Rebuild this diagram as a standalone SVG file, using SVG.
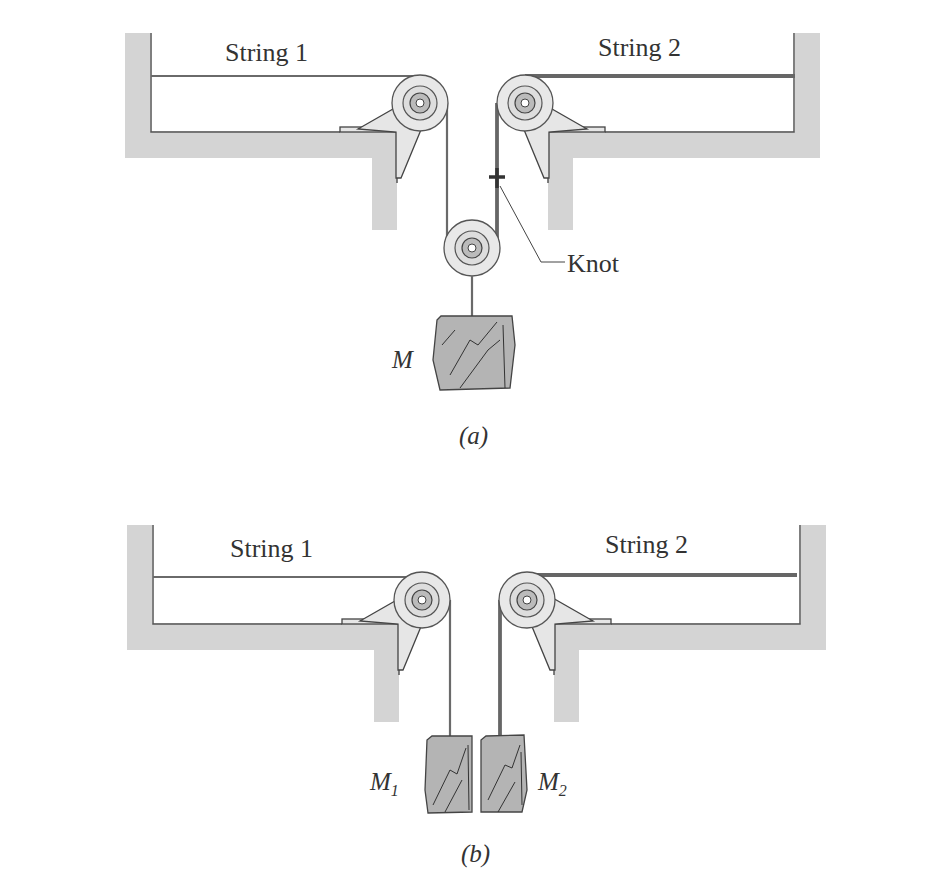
<svg xmlns="http://www.w3.org/2000/svg" width="936" height="896" viewBox="0 0 936 896">
<style>
.wall{fill:#d4d4d4;stroke:none}
.edge{fill:none;stroke:#555;stroke-width:1.5}
.s1{fill:none;stroke:#6a6a6a;stroke-width:2.2}
.s2{fill:none;stroke:#666;stroke-width:3.8}
.brk{fill:#e6e6e6;stroke:#444;stroke-width:1.3}
.pw{fill:#e8e8e8;stroke:#555;stroke-width:1.3}
.blk{fill:#b4b4b4;stroke:#444;stroke-width:1.3}
.crk{fill:none;stroke:#333;stroke-width:1}
.lbl{font-family:"Liberation Serif",serif;font-size:26px;fill:#333}
.it{font-family:"Liberation Serif",serif;font-size:25px;font-style:italic;fill:#333}
</style>
<defs>
<g id="pulley">
<circle r="28" class="pw"/>
<circle r="17" fill="#ddd" stroke="#555" stroke-width="1.2"/>
<circle r="10" fill="#bbb" stroke="#444" stroke-width="1.2"/>
<circle r="4" fill="#fff" stroke="#444" stroke-width="1"/>
</g>
<g id="lwall">
<path class="wall" d="M125,0 H150 V98 H397 V197 H372 V125 H125 Z"/>
<path class="edge" d="M151,0 V99 H340"/>
<path class="edge" d="M397,99 V150"/>
<rect x="340" y="94" width="56" height="5" class="brk"/>
<path class="brk" d="M358,96 L414,64 L430,75 L401,145 L396,145 L396,99 Z"/>
</g>
</defs>
<g id="panel-a">
<use href="#lwall" y="33"/>
<use href="#lwall" transform="translate(945,33) scale(-1,1)"/>
<path class="s1" d="M151,76 H420"/>
<path class="s2" d="M525,76 H795"/>
<path class="s1" d="M447,103 V248"/>
<path class="s2" d="M497,103 V248"/>
<use href="#pulley" x="420" y="103"/>
<use href="#pulley" x="525" y="103"/>
<use href="#pulley" x="472" y="248"/>
<path class="s1" d="M472,276 V318"/>
<g id="block-M">
<path class="blk" d="M437,320 L441,316 L512,316 L515,345 L510,388 L440,390 L433,360 Z"/>
<path class="crk" d="M450,375 L470,340 L478,345 L497,322 M460,388 L488,350 L500,340 M503,325 L505,388 M442,345 L455,330"/>
</g>
<text class="it" x="392" y="368">M</text>
<path d="M489,177 L505,177 M497,168 L497,188" stroke="#333" stroke-width="3.5"/>
<path d="M500,186 L541,262 H565" fill="none" stroke="#444" stroke-width="1"/>
<text class="lbl" x="567" y="272">Knot</text>
<text class="lbl" x="225" y="61">String 1</text>
<text class="lbl" x="598" y="56">String 2</text>
<text class="it" x="459" y="444" font-size="22">(a)</text>
</g>
<g id="panel-b">
<use href="#lwall" x="2" y="525"/>
<use href="#lwall" transform="translate(951,525) scale(-1,1)"/>
<path class="s1" d="M153,577 H422"/>
<path class="s2" d="M527,575 H797"/>
<path class="s1" d="M450,600 V738"/>
<path class="s2" d="M500,600 V738"/>
<use href="#pulley" x="422" y="600"/>
<use href="#pulley" x="527" y="600"/>
<g id="block-M1">
<path class="blk" d="M427,740 L432,736 L472,736 L472,812 L428,813 L425,790 Z"/>
<path class="crk" d="M433,805 L450,770 L457,774 L466,748 M445,812 L462,780 M468,745 L469,810"/>
</g>
<g id="block-M2">
<path class="blk" d="M481,740 L486,736 L524,735 L527,790 L522,812 L481,812 Z"/>
<path class="crk" d="M488,800 L505,765 L512,768 L520,745 M498,812 L515,782 M521,752 L522,805"/>
</g>
<text class="it" x="370" y="790">M<tspan font-size="16" dy="6">1</tspan></text>
<text class="it" x="538" y="790">M<tspan font-size="16" dy="6">2</tspan></text>
<text class="lbl" x="230" y="557">String 1</text>
<text class="lbl" x="605" y="553">String 2</text>
<text class="it" x="461" y="862" font-size="22">(b)</text>
</g>
</svg>
